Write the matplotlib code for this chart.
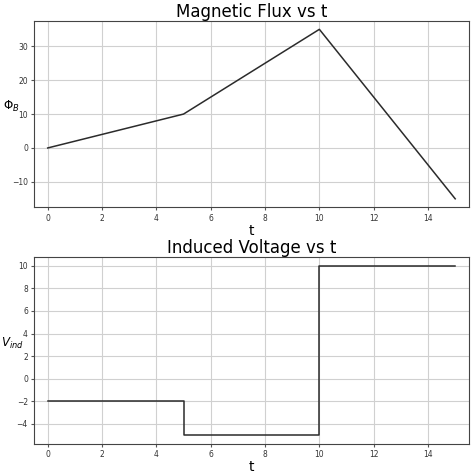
import matplotlib
matplotlib.use("Agg")
import matplotlib.pyplot as plt

# data
t_flux = [0, 5, 10, 15]
flux = [0, 10, 35, -15]
t_volt = [0, 5, 10, 15]
volt = [-2, -5, 10, 10]

fig, (ax1, ax2) = plt.subplots(2, 1, figsize=(4.74, 4.74), dpi=100)
fig.subplots_adjust(left=0.072, right=0.989, top=0.956, bottom=0.064, hspace=0.268)

line_color = "#2b2b2b"

ax1.plot(t_flux, flux, color=line_color, lw=1.1)
ax1.set_title("Magnetic Flux vs t", fontsize=12, pad=2)
ax1.set_xlabel("t", fontsize=10, labelpad=1)
ax1.set_ylabel(r"$\Phi_B$", fontsize=8.5, rotation=0, ha="right", va="center")
ax1.yaxis.set_label_coords(-0.034, 0.54)

ax2.step(t_volt, volt, where="post", color=line_color, lw=1.1)
ax2.set_title("Induced Voltage vs t", fontsize=12, pad=2)
ax2.set_xlabel("t", fontsize=10, labelpad=1)
ax2.set_ylabel(r"$V_{ind}$", fontsize=8.5, rotation=0, ha="right", va="center")
ax2.yaxis.set_label_coords(-0.024, 0.536)
ax2.set_yticks(range(-4, 11, 2))

for ax in (ax1, ax2):
    ax.grid(True, color="#d0d0d0", lw=0.8)
    ax.set_xlim(-0.5, 15.5)
    ax.set_xticks(range(0, 15, 2))
    ax.tick_params(labelsize=5.5, length=2.5, pad=2, color="#555555", labelcolor="#333333")
    for s in ax.spines.values():
        s.set_color("#444444")
        s.set_linewidth(0.8)

plt.savefig("out.png", dpi=100)
